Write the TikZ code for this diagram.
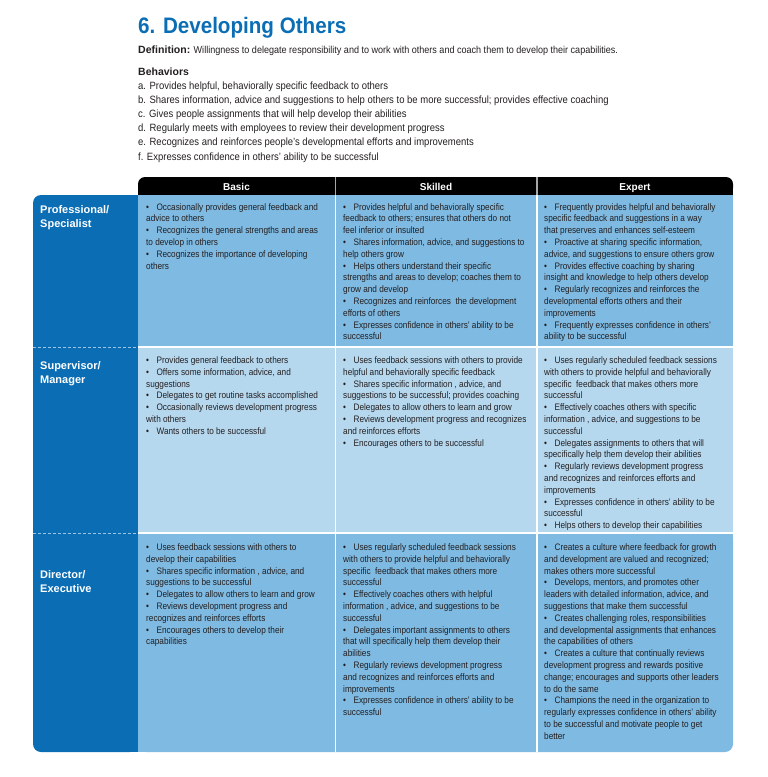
\documentclass[tikz,border=0pt]{standalone}
\usepackage{fontspec}
\setmainfont{Liberation Sans}[FakeStretch=0.9]
\newfontfamily\boldfam{Liberation Sans}
\newfontfamily\titlefam{Liberation Sans}[FakeStretch=0.92]
\newfontfamily\cellfam{Liberation Sans}[FakeStretch=0.875]
\definecolor{bluedark}{RGB}{11,110,181}
\definecolor{rowa}{RGB}{127,186,226}
\definecolor{rowb}{RGB}{182,216,239}
\definecolor{txt}{RGB}{35,31,32}
\newcommand\cbul{\textbullet\hspace{0.8em}}
\tikzset{
  cell/.style={anchor=north west, inner sep=0pt, align=left, text=txt,
    font=\cellfam\fontsize{9.4}{11.8}\selectfont},
  rowlabel/.style={anchor=north west, inner sep=0pt, align=left, text=white,
    font=\boldfam\bfseries\fontsize{11}{14.8}\selectfont},
  colhead/.style={anchor=base, inner sep=0pt, text=white, font=\boldfam\bfseries\fontsize{10}{12}\selectfont},
  behline/.style={anchor=base west, inner sep=0pt, text=txt, font=\fontsize{10.55}{14}\selectfont},
  sepline/.style={white, line width=1.2pt},
}
\begin{document}
\begin{tikzpicture}[x=1pt,y=-1pt]
\useasboundingbox (0,0) rectangle (768,777);
% title block
\node[anchor=base west, inner sep=0pt, text=bluedark, font=\titlefam\bfseries\fontsize{22.4}{26}\selectfont] (title) at (138,33) {6. Developing Others};
\node[behline, font=\fontsize{10.05}{14}\selectfont] (definition) at (138,53.5) {{\boldfam\bfseries\fontsize{10.55}{14}\selectfont Definition:} Willingness to delegate responsibility and to work with others and coach them to develop their capabilities.};
\node[behline, font=\boldfam\bfseries\fontsize{10.5}{14}\selectfont] (behaviors) at (138,75) {Behaviors};
\node[behline] (beha) at (138,89.5) {a. Provides helpful, behaviorally specific feedback to others};
\node[behline] (behb) at (138,103.6) {b. Shares information, advice and suggestions to help others to be more successful; provides effective coaching};
\node[behline] (behc) at (138,117.7) {c. Gives people assignments that will help develop their abilities};
\node[behline] (behd) at (138,131.8) {d. Regularly meets with employees to review their development progress};
\node[behline] (behe) at (138,145.9) {e. Recognizes and reinforces people’s developmental efforts and improvements};
\node[behline] (behf) at (138,160) {f. Expresses confidence in others’ ability to be successful};
% header
\fill[black, rounded corners=7pt] (138,177) rectangle (733,195);
\fill[black] (138,186) rectangle (733,195);
% left column
\fill[bluedark, rounded corners=8pt] (33,195) rectangle (138,752);
\fill[bluedark] (110,195) rectangle (138,752);
% rows
\fill[rowa] (138,195) rectangle (733,347);
\fill[rowb] (138,347) rectangle (733,533);
\fill[rowa, rounded corners=8pt] (138,533) rectangle (733,752);
\fill[rowa] (138,533) rectangle (733,740);
\fill[rowa] (138,533) rectangle (715,752);
% separators
\draw[gray!70, line width=1.2pt] (335.5,177) -- (335.5,195);
\draw[gray!70, line width=1.2pt] (537,177) -- (537,195);
\draw[sepline] (335.5,195) -- (335.5,752);
\draw[sepline] (537,195) -- (537,752);
\draw[sepline] (138,347) -- (733,347);
\draw[sepline] (138,533) -- (733,533);
\draw[white, opacity=0.6, line width=0.8pt, densely dashed] (33,347) -- (138,347);
\draw[white, opacity=0.6, line width=0.8pt, densely dashed] (33,533) -- (138,533);
% column headers
\node[colhead] (hbasic) at (236.5,190) {Basic};
\node[colhead] (hskilled) at (436,190) {Skilled};
\node[colhead] (hexpert) at (635,190) {Expert};
% row labels
\node[rowlabel] (lprof) at (40,205) {Professional/\\Specialist};
\node[rowlabel] (lsup) at (40,361) {Supervisor/\\Manager};
\node[rowlabel] (ldir) at (40,570) {Director/\\Executive};
% row 1
\node[cell] (c11) at (146,203) {\cbul Occasionally provides general feedback and\\advice to others\\\cbul Recognizes the general strengths and areas\\to develop in others\\\cbul Recognizes the importance of developing\\others};
\node[cell] (c12) at (343,203) {\cbul Provides helpful and behaviorally specific\\feedback to others; ensures that others do not\\feel inferior or insulted\\\cbul Shares information, advice, and suggestions to\\help others grow\\\cbul Helps others understand their specific\\strengths and areas to develop; coaches them to\\grow and develop\\\cbul Recognizes and reinforces\ \ the development\\efforts of others\\\cbul Expresses confidence in others’ ability to be\\successful};
\node[cell] (c13) at (544,203) {\cbul Frequently provides helpful and behaviorally\\specific feedback and suggestions in a way\\that preserves and enhances self-esteem\\\cbul Proactive at sharing specific information,\\advice, and suggestions to ensure others grow\\\cbul Provides effective coaching by sharing\\insight and knowledge to help others develop\\\cbul Regularly recognizes and reinforces the\\developmental efforts others and their\\improvements\\\cbul Frequently expresses confidence in others’\\ability to be successful};
% row 2
\node[cell] (c21) at (146,356.5) {\cbul Provides general feedback to others\\\cbul Offers some information, advice, and\\suggestions\\\cbul Delegates to get routine tasks accomplished\\\cbul Occasionally reviews development progress\\with others\\\cbul Wants others to be successful};
\node[cell] (c22) at (343,356.5) {\cbul Uses feedback sessions with others to provide\\helpful and behaviorally specific feedback\\\cbul Shares specific information , advice, and\\suggestions to be successful; provides coaching\\\cbul Delegates to allow others to learn and grow\\\cbul Reviews development progress and recognizes\\and reinforces efforts\\\cbul Encourages others to be successful};
\node[cell] (c23) at (544,356.5) {\cbul Uses regularly scheduled feedback sessions\\with others to provide helpful and behaviorally\\specific\ \ feedback that makes others more\\successful\\\cbul Effectively coaches others with specific\\information , advice, and suggestions to be\\successful\\\cbul Delegates assignments to others that will\\specifically help them develop their abilities\\\cbul Regularly reviews development progress\\and recognizes and reinforces efforts and\\improvements\\\cbul Expresses confidence in others’ ability to be\\successful\\\cbul Helps others to develop their capabilities};
% row 3
\node[cell] (c31) at (146,543.5) {\cbul Uses feedback sessions with others to\\develop their capabilities\\\cbul Shares specific information , advice, and\\suggestions to be successful\\\cbul Delegates to allow others to learn and grow\\\cbul Reviews development progress and\\recognizes and reinforces efforts\\\cbul Encourages others to develop their\\capabilities};
\node[cell] (c32) at (343,543.5) {\cbul Uses regularly scheduled feedback sessions\\with others to provide helpful and behaviorally\\specific\ \ feedback that makes others more\\successful\\\cbul Effectively coaches others with helpful\\information , advice, and suggestions to be\\successful\\\cbul Delegates important assignments to others\\that will specifically help them develop their\\abilities\\\cbul Regularly reviews development progress\\and recognizes and reinforces efforts and\\improvements\\\cbul Expresses confidence in others’ ability to be\\successful};
\node[cell] (c33) at (544,543.5) {\cbul Creates a culture where feedback for growth\\and development are valued and recognized;\\makes others more successful\\\cbul Develops, mentors, and promotes other\\leaders with detailed information, advice, and\\suggestions that make them successful\\\cbul Creates challenging roles, responsibilities\\and developmental assignments that enhances\\the capabilities of others\\\cbul Creates a culture that continually reviews\\development progress and rewards positive\\change; encourages and supports other leaders\\to do the same\\\cbul Champions the need in the organization to\\regularly expresses confidence in others’ ability\\to be successful and motivate people to get\\better};
\end{tikzpicture}
\end{document}
